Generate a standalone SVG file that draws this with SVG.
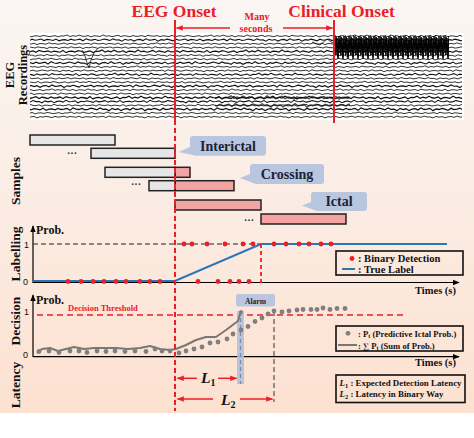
<svg xmlns="http://www.w3.org/2000/svg" xmlns:xlink="http://www.w3.org/1999/xlink" width="474" height="438" viewBox="0 0 474 438">
<style>
.ser{font-family:"Liberation Serif","DejaVu Serif",serif;font-weight:bold}
.red{fill:#e8202a}
.lbl{font-size:13.5px;fill:#111}
.box{stroke:#222;stroke-width:1.5}
.gray{fill:#e6e6e6}
.pink{fill:#f4a3a3}
.call{fill:#b9c6df}
.ctxt{font-size:14px;fill:#1b2236}
.ax{stroke:#000;stroke-width:1.2;fill:none}
.num{font-family:"Liberation Sans",Arial,sans-serif;font-size:9px;fill:#111}
.rd{fill:#e8202a}
.gd{fill:#7f7f7f}
.leg{fill:none;stroke:#111;stroke-width:1.6}
.tr{fill:none;stroke:#111;stroke-width:0.85}
</style>
<defs>
<linearGradient id="bg" x1="0" y1="0" x2="0" y2="1">
<stop offset="0" stop-color="#faf6f3"/>
<stop offset="0.5" stop-color="#fbece3"/>
<stop offset="1" stop-color="#fde1d0"/>
</linearGradient>
<marker id="ah" viewBox="0 0 10 10" refX="9" refY="5" markerWidth="7" markerHeight="7" markerUnits="userSpaceOnUse" orient="auto-start-reverse"><path d="M0,1 L10,5 L0,9 z" fill="#000"/></marker>
<marker id="ahr" viewBox="0 0 10 10" refX="9" refY="5" markerWidth="7" markerHeight="7" markerUnits="userSpaceOnUse" orient="auto-start-reverse"><path d="M0,1 L10,5 L0,9 z" fill="#e8202a"/></marker>
<path id="tr" class="tr" d="M-120,0 l3,-1 3,1.5 3,-.8 3,.6 3,-1.2 3,1 3,.3 3,-.9 3,1.4 3,-1.1 3,.2 3,.5 3,-1.5 3,1.2 3,-.4 3,.8 3,-.6 3,-.7 3,1.3 3,-.9 3,.4 3,.6 3,-1.2 3,.9 3,-.3 3,-.5 3,1.1 3,-1.4 3,.7 3,.2 3,-.6 3,1 3,-.8 3,.3 3,.5 3,-1.3 3,1.6 3,-.9 3,-.2 3,.7 3,-1 3,.4 3,.8 3,-.5 3,-.6 3,1.2 3,-.9 3,.1 l3,-1 3,1.5 3,-.8 3,.6 3,-1.2 3,1 3,.3 3,-.9 3,1.4 3,-1.1 3,.2 3,.5 3,-1.5 3,1.2 3,-.4 3,.8 3,-.6 3,-.7 3,1.3 3,-.9 3,.4 3,.6 3,-1.2 3,.9 3,-.3 3,-.5 3,1.1 3,-1.4 3,.7 3,.2 3,-.6 3,1 3,-.8 3,.3 3,.5 3,-1.3 3,1.6 3,-.9 3,-.2 3,.7 3,-1 3,.4 3,.8 3,-.5 3,-.6 3,1.2 3,-.9 3,.1 l3,-1 3,1.5 3,-.8 3,.6 3,-1.2 3,1 3,.3 3,-.9 3,1.4 3,-1.1 3,.2 3,.5 3,-1.5 3,1.2 3,-.4 3,.8 3,-.6 3,-.7 3,1.3 3,-.9 3,.4 3,.6 3,-1.2 3,.9 3,-.3 3,-.5 3,1.1 3,-1.4 3,.7 3,.2 3,-.6 3,1 3,-.8 3,.3 3,.5 3,-1.3 3,1.6 3,-.9 3,-.2 3,.7 3,-1 3,.4 3,.8 3,-.5 3,-.6 3,1.2 3,-.9 3,.1 l3,-1 3,1.5 3,-.8 3,.6 3,-1.2 3,1 3,.3 3,-.9 3,1.4 3,-1.1 3,.2 3,.5 3,-1.5 3,1.2 3,-.4 3,.8 3,-.6 3,-.7 3,1.3 3,-.9 3,.4 3,.6 3,-1.2 3,.9 3,-.3 3,-.5 3,1.1 3,-1.4 3,.7 3,.2 3,-.6 3,1 3,-.8 3,.3 3,.5 3,-1.3 3,1.6 3,-.9 3,-.2 3,.7 3,-1 3,.4 3,.8 3,-.5 3,-.6 3,1.2 3,-.9 3,.1"/>
<pattern id="dense" x="0" y="34" width="5" height="26" patternUnits="userSpaceOnUse">
<path d="M0,1 L1,21 L2,4 L3,25 L4,2 L5,19" fill="none" stroke="#000" stroke-width="1"/>
<path d="M0,12 L1.2,3 L2.5,17 L3.7,6 L5,14" fill="none" stroke="#000" stroke-width="0.9"/>
<path d="M0,22 L1.5,9 L3,23 L5,11" fill="none" stroke="#000" stroke-width="0.8"/>
</pattern>
<clipPath id="eegclip"><rect x="30" y="33" width="432" height="87"/></clipPath>
<clipPath id="botclip"><rect x="215" y="94" width="135" height="16"/></clipPath>
</defs>

<rect x="0" y="0" width="474" height="438" fill="#fff"/>
<rect x="0" y="0" width="474" height="413" fill="url(#bg)"/>

<g id="titles">
<text class="ser red" x="174" y="17" font-size="17.5" text-anchor="middle">EEG Onset</text>
<text class="ser red" x="341.5" y="17" font-size="17.5" text-anchor="middle">Clinical Onset</text>
<text class="ser red" x="257" y="20" font-size="10" text-anchor="middle">Many</text>
<text class="ser red" x="256" y="32" font-size="10" text-anchor="middle">seconds</text>
</g>

<g id="row-labels" class="ser lbl">
<text transform="translate(14,75) rotate(-90)" text-anchor="middle" font-size="12.5">EEG</text>
<text transform="translate(26.5,75) rotate(-90)" text-anchor="middle" font-size="12.5">Recordings</text>
<text transform="translate(19.5,181) rotate(-90)" text-anchor="middle">Samples</text>
<text transform="translate(19.5,254) rotate(-90)" text-anchor="middle">Labelling</text>
<text transform="translate(19.5,321) rotate(-90)" text-anchor="middle">Decision</text>
<text transform="translate(19.5,385) rotate(-90)" text-anchor="middle">Latency</text>
</g>

<g id="eeg">
<rect x="30" y="33" width="434" height="87" fill="#fff"/>
<g clip-path="url(#eegclip)">
<use xlink:href="#tr" x="40" y="36"/>
<use xlink:href="#tr" transform="translate(95,39.9) scale(1,-1.3)"/>
<use xlink:href="#tr" x="130" y="43.7"/>
<use xlink:href="#tr" transform="translate(20,47.6) scale(1,-1)"/>
<use xlink:href="#tr" transform="translate(75,51.4) scale(1,1.4)"/>
<use xlink:href="#tr" transform="translate(140,55.3) scale(1,-1)"/>
<use xlink:href="#tr" x="12" y="59.1"/>
<use xlink:href="#tr" transform="translate(60,63) scale(1,-1.4)"/>
<use xlink:href="#tr" x="110" y="66.8"/>
<use xlink:href="#tr" transform="translate(33,70.7) scale(1,-1)"/>
<use xlink:href="#tr" transform="translate(88,74.5) scale(1,1.3)"/>
<use xlink:href="#tr" transform="translate(122,78.4) scale(1,-1)"/>
<use xlink:href="#tr" x="50" y="82.2"/>
<use xlink:href="#tr" transform="translate(145,86.1) scale(1,-1.4)"/>
<use xlink:href="#tr" x="25" y="89.9"/>
<use xlink:href="#tr" transform="translate(70,93.8) scale(1,-1)"/>
<use xlink:href="#tr" transform="translate(102,97.6) scale(1,1.5)"/>
<use xlink:href="#tr" transform="translate(15,101.5) scale(1,-1.3)"/>
<use xlink:href="#tr" x="135" y="105.3"/>
<use xlink:href="#tr" transform="translate(82,109.2) scale(1,-1.5)"/>
<use xlink:href="#tr" x="44" y="113"/>
<use xlink:href="#tr" transform="translate(118,116.9) scale(1,-1)"/>
<path d="M82,50 L85,56 L87,63 L89,68 L91,60 L94,53 L98,48" fill="none" stroke="#111" stroke-width="0.8"/>
<path d="M312,42 L320,45 L327,39 L333,43" fill="none" stroke="#111" stroke-width="0.8"/>
<rect x="333" y="34" width="116" height="26" fill="url(#dense)"/>
</g>
<g clip-path="url(#botclip)" opacity="0.75">
<use xlink:href="#tr" transform="translate(60,97.6) scale(1,1.8)" style="stroke-width:1.1"/>
<use xlink:href="#tr" transform="translate(100,105.3) scale(1,-1.8)" style="stroke-width:1.1"/>
</g>
</g>

<g id="samples">
<rect class="box gray" x="30" y="135" width="85" height="10"/>
<text class="ser" x="72" y="157" font-size="10" text-anchor="middle" fill="#222">···</text>
<rect class="box gray" x="91" y="148.3" width="84" height="10"/>
<rect class="box pink" x="175" y="167.3" width="15" height="10"/>
<rect class="box gray" x="105" y="167.3" width="70" height="10"/>
<text class="ser" x="136" y="188" font-size="10" text-anchor="middle" fill="#222">···</text>
<rect class="box pink" x="175" y="180.7" width="59" height="10"/>
<rect class="box gray" x="149" y="180.7" width="26" height="10"/>
<rect class="box pink" x="175" y="200" width="86" height="10"/>
<text class="ser" x="249" y="224" font-size="10" text-anchor="middle" fill="#222">···</text>
<rect class="box pink" x="261" y="214" width="85" height="10"/>
</g>

<g id="callout-interictal">
<path class="call" d="M193,136 H263 Q266,136 266,139 V152.7 Q266,155.7 263,155.7 H196 L178.5,152 L190,147 V139 Q190,136 193,136 Z"/>
<text class="ser ctxt" x="228" y="151" text-anchor="middle">Interictal</text>
</g>
<g id="callout-crossing">
<path class="call" d="M253,164 H321 Q324,164 324,167 V181 Q324,184 321,184 H256 L240,178 L250,174 V167 Q250,164 253,164 Z"/>
<text class="ser ctxt" x="287" y="179" text-anchor="middle">Crossing</text>
</g>
<g id="callout-ictal">
<path class="call" d="M314,192 H364 Q367,192 367,195 V208 Q367,211 364,211 H317 L302,205.5 L311,202 V195 Q311,192 314,192 Z"/>
<text class="ser ctxt" x="339" y="206" text-anchor="middle">Ictal</text>
</g>

<g id="labelling">
<line class="ax" x1="33" y1="283" x2="33" y2="226" marker-end="url(#ah)"/>
<line class="ax" x1="33" y1="282.5" x2="459" y2="282.5" marker-end="url(#ah)"/>
<text class="ser" x="36" y="234" font-size="12" fill="#111">Prob.</text>
<text class="num" x="29" y="247.5" text-anchor="end">1</text>
<text class="num" x="28" y="284.5" text-anchor="end">0</text>
<line x1="33" y1="244" x2="261" y2="244" stroke="#222" stroke-width="1.1" stroke-dasharray="5,3"/>
<path d="M33,281 H175 L261,244 H447" fill="none" stroke="#2e75b6" stroke-width="2.2"/>
<g class="rd">
<circle cx="68" cy="281.5" r="2.4"/><circle cx="81" cy="281.5" r="2.4"/><circle cx="93" cy="281.5" r="2.4"/><circle cx="104" cy="281.5" r="2.4"/><circle cx="116" cy="281.5" r="2.4"/><circle cx="126" cy="281.5" r="2.4"/><circle cx="140" cy="281.5" r="2.4"/><circle cx="150" cy="281.5" r="2.4"/><circle cx="160" cy="281.5" r="2.4"/>
<circle cx="198" cy="281.5" r="2.4"/><circle cx="218" cy="281.5" r="2.4"/><circle cx="230" cy="281.5" r="2.4"/><circle cx="239" cy="281.5" r="2.4"/><circle cx="249" cy="281.5" r="2.4"/>
<circle cx="184" cy="244" r="2.4"/><circle cx="192" cy="244" r="2.4"/><circle cx="207" cy="244" r="2.4"/><circle cx="225" cy="244" r="2.4"/><circle cx="243" cy="244" r="2.4"/><circle cx="253" cy="244" r="2.4"/>
<circle cx="274" cy="244" r="2.4"/><circle cx="286" cy="244" r="2.4"/><circle cx="299" cy="244" r="2.4"/><circle cx="309" cy="244" r="2.4"/><circle cx="321" cy="244" r="2.4"/><circle cx="331" cy="244" r="2.4"/>
</g>
<text class="ser" x="415" y="294" font-size="10.5" fill="#111">Times (s)</text>
</g>

<g id="legend-labelling">
<rect class="leg" x="336" y="251" width="127" height="24"/>
<circle class="rd" cx="352" cy="258.5" r="2.4"/>
<line x1="342" y1="269" x2="355" y2="269" stroke="#2e75b6" stroke-width="2"/>
<text class="ser" x="358" y="262" font-size="10.5" fill="#111">: Binary Detection</text>
<text class="ser" x="358" y="273" font-size="10.5" fill="#111">: True Label</text>
</g>

<g id="decision">
<line class="ax" x1="33" y1="357" x2="33" y2="295" marker-end="url(#ah)"/>
<line class="ax" x1="33" y1="356.7" x2="459" y2="356.7" marker-end="url(#ah)"/>
<text class="ser" x="36" y="304" font-size="12" fill="#111">Prob.</text>
<text class="num" x="29" y="314.5" text-anchor="end">1</text>
<text class="num" x="28" y="357.5" text-anchor="end">0</text>
<line x1="37" y1="315" x2="403" y2="315" stroke="#e8202a" stroke-width="1.3" stroke-dasharray="6,4"/>
<text class="ser red" x="68" y="311" font-size="8.5">Decision Threshold</text>
<rect x="237" y="311" width="7" height="73" fill="#b3c1dc" opacity="0.9"/>
<line x1="240.5" y1="311" x2="240.5" y2="384" stroke="#7b8bb0" stroke-width="1.3" stroke-dasharray="4,3"/>
<line x1="274" y1="311" x2="274" y2="402" stroke="#707070" stroke-width="1.5" stroke-dasharray="5,3"/>
<path d="M37,353 L42,349 L50,348 L58,351 L66,349 L74,347 L84,349 L94,348 L104,348 L116,348 L128,349 L140,348 L150,346 L160,349 L170,350 L176,349 L186,345 L196,340 L206,337 L216,337 L226,330 L234,324 L238,321 L241,311" fill="none" stroke="#777" stroke-width="2" stroke-linejoin="round"/>
<g class="gd">
<circle cx="39" cy="351.5" r="2.4"/><circle cx="49" cy="351" r="2.4"/><circle cx="59" cy="352.5" r="2.4"/><circle cx="70" cy="351" r="2.4"/><circle cx="79" cy="351" r="2.4"/><circle cx="87" cy="352.5" r="2.4"/><circle cx="97" cy="351" r="2.4"/><circle cx="106" cy="351.5" r="2.4"/><circle cx="115" cy="351" r="2.4"/><circle cx="125" cy="351.5" r="2.4"/><circle cx="135" cy="351" r="2.4"/><circle cx="146" cy="351.5" r="2.4"/><circle cx="155" cy="349" r="2.4"/><circle cx="162" cy="351" r="2.4"/><circle cx="170" cy="351" r="2.4"/><circle cx="179" cy="353" r="2.4"/><circle cx="186" cy="351" r="2.4"/><circle cx="194" cy="349" r="2.4"/><circle cx="202" cy="347" r="2.4"/><circle cx="210" cy="343" r="2.4"/><circle cx="218" cy="342" r="2.4"/><circle cx="227" cy="339" r="2.4"/><circle cx="233" cy="334" r="2.4"/><circle cx="241" cy="330" r="2.4"/><circle cx="241" cy="312" r="2"/><circle cx="248" cy="326.5" r="2.4"/><circle cx="255" cy="321.5" r="2.4"/><circle cx="262" cy="318" r="2.4"/><circle cx="268" cy="314" r="2.4"/><circle cx="274" cy="311" r="2.4"/><circle cx="282" cy="312" r="2.4"/><circle cx="289" cy="311" r="2.4"/><circle cx="297" cy="310" r="2.4"/><circle cx="303" cy="309.5" r="2.4"/><circle cx="311" cy="309.5" r="2.4"/><circle cx="317" cy="309.5" r="2.4"/><circle cx="323" cy="308" r="2.4"/><circle cx="330" cy="309.5" r="2.4"/><circle cx="337" cy="308.5" r="2.4"/><circle cx="345" cy="308.5" r="2.4"/>
</g>
<text class="ser" x="415" y="366" font-size="10.5" fill="#111">Times (s)</text>
</g>

<g id="alarm">
<rect x="236" y="294" width="39" height="12.5" rx="2" fill="#b9c6df"/>
<text class="ser" x="255.5" y="303.5" font-size="7.5" text-anchor="middle" fill="#1b2236">Alarm</text>
</g>

<g id="legend-decision">
<rect class="leg" x="336" y="326" width="127" height="25"/>
<circle class="gd" cx="348" cy="333.3" r="2.4"/>
<line x1="338" y1="345" x2="357" y2="345" stroke="#777" stroke-width="2"/>
<text class="ser" x="358" y="336.5" font-size="8.6" fill="#111">: P<tspan font-size="6" dy="1.5">t</tspan><tspan dy="-1.5"> (Predictive Ictal Prob.)</tspan></text>
<text class="ser" x="358" y="348.5" font-size="8.6" fill="#111">: ∑ P<tspan font-size="6" dy="1.5">t</tspan><tspan dy="-1.5"> (Sum of Prob.)</tspan></text>
</g>

<g id="latency">
<text class="ser" x="201" y="383" font-size="15.5" font-style="italic" fill="#111">L<tspan font-size="10" dy="3" font-style="normal">1</tspan></text>
<text class="ser" x="221" y="405" font-size="15.5" font-style="italic" fill="#111">L<tspan font-size="10" dy="3" font-style="normal">2</tspan></text>
</g>

<g id="legend-latency">
<rect class="leg" x="336" y="375" width="129" height="27.5"/>
<text class="ser" x="339.5" y="386" font-size="8.9" fill="#111"><tspan font-style="italic">L</tspan><tspan font-size="6.5" dy="1.5">1</tspan><tspan dy="-1.5"> : Expected Detection Latency</tspan></text>
<text class="ser" x="339.5" y="397" font-size="8.9" fill="#111"><tspan font-style="italic">L</tspan><tspan font-size="6.5" dy="1.5">2</tspan><tspan dy="-1.5"> : Latency in Binary Way</tspan></text>
</g>

<g id="connectors">
<line x1="175" y1="20" x2="175" y2="120" stroke="#e8202a" stroke-width="2"/>
<line x1="175" y1="120" x2="175" y2="411" stroke="#e8202a" stroke-width="2" stroke-dasharray="5,3"/>
<line x1="334" y1="20" x2="334" y2="123" stroke="#e8202a" stroke-width="2"/>
<line x1="261" y1="244" x2="261" y2="284" stroke="#e8202a" stroke-width="1.8" stroke-dasharray="4,3"/>
<line x1="230" y1="28" x2="176.5" y2="28" stroke="#e8202a" stroke-width="1.5" marker-end="url(#ahr)"/>
<line x1="283" y1="28" x2="332.5" y2="28" stroke="#e8202a" stroke-width="1.5" marker-end="url(#ahr)"/>
<line x1="197" y1="378.3" x2="177.5" y2="378.3" stroke="#e8202a" stroke-width="1.5" marker-end="url(#ahr)"/>
<line x1="218" y1="378.3" x2="236.5" y2="378.3" stroke="#e8202a" stroke-width="1.5" marker-end="url(#ahr)"/>
<line x1="213" y1="399" x2="177.5" y2="399" stroke="#e8202a" stroke-width="1.5" marker-end="url(#ahr)"/>
<line x1="240" y1="399" x2="272.5" y2="399" stroke="#e8202a" stroke-width="1.5" marker-end="url(#ahr)"/>
</g>
</svg>
